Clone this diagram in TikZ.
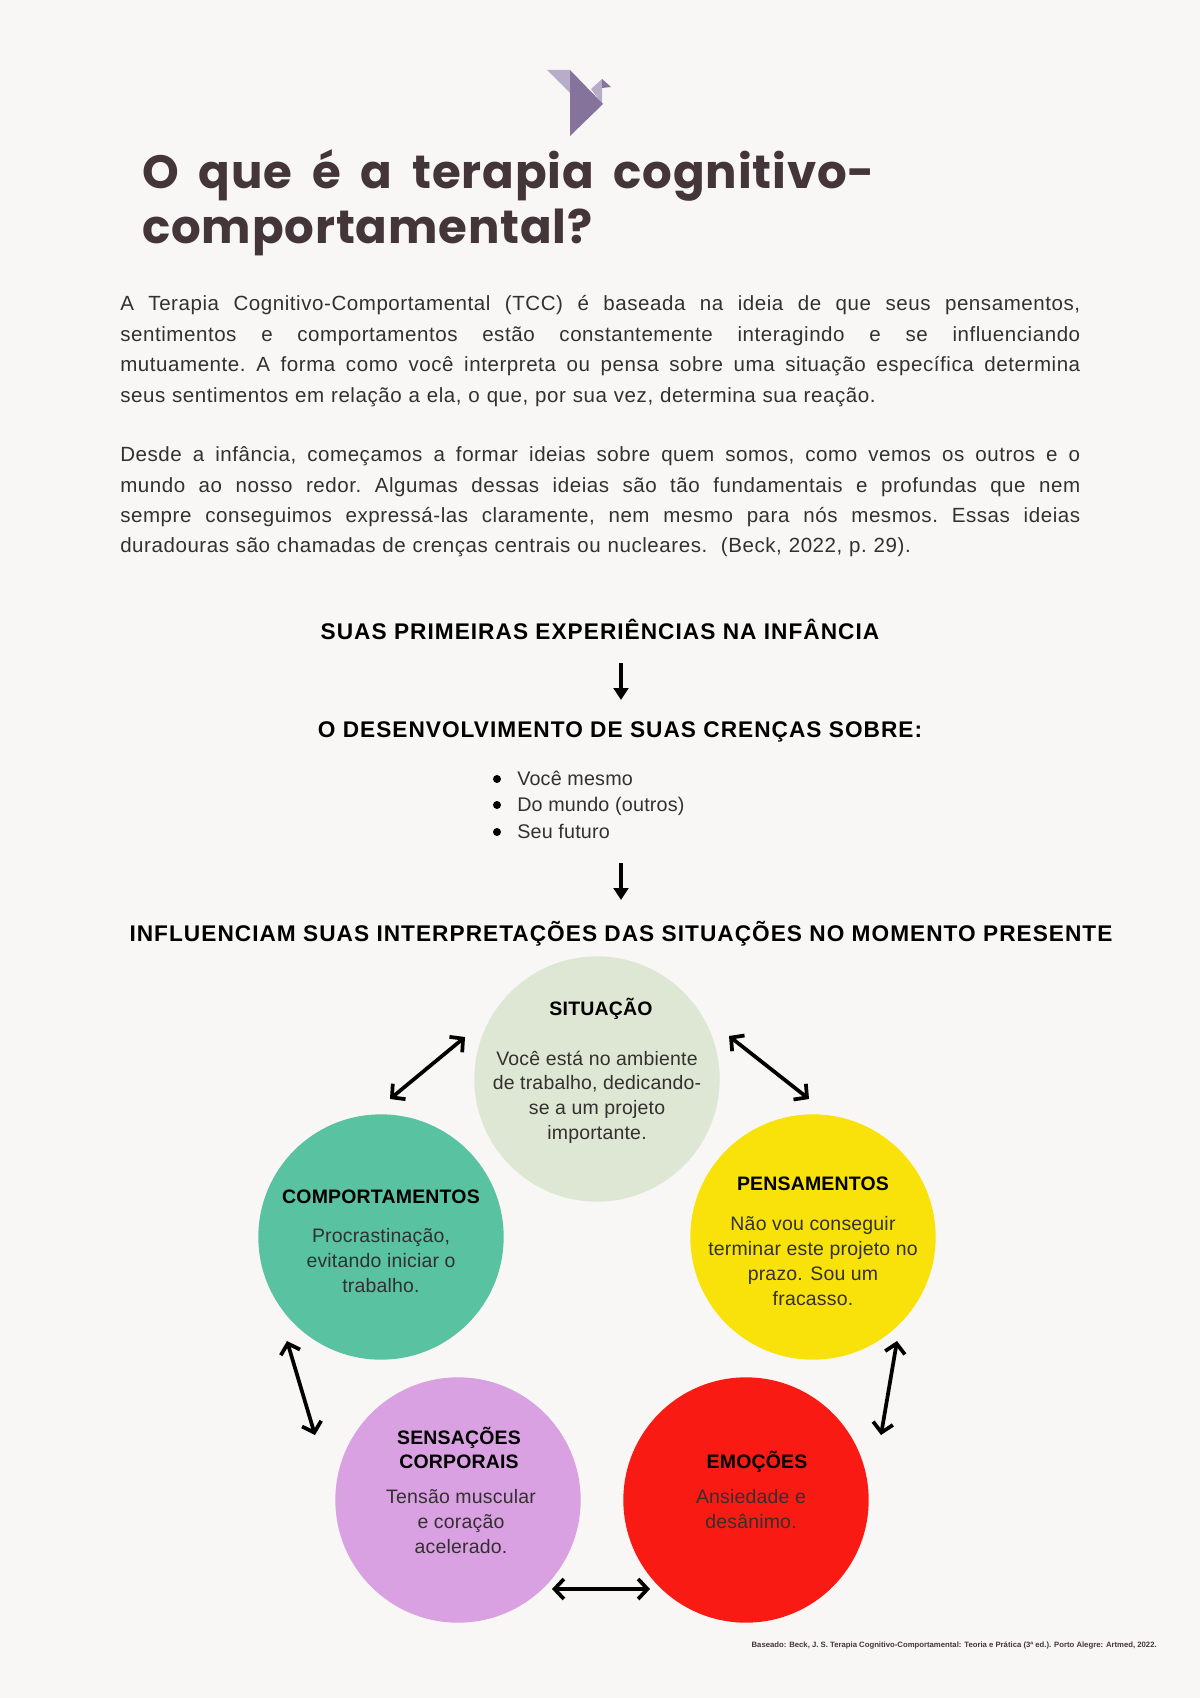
\documentclass[tikz,border=0pt]{standalone}
\usepackage{fontspec}
\setmainfont{Liberation Sans}
\newfontfamily\titlefont{Poppins}[LetterSpace=1.8,WordSpace=1.85]
\newfontfamily\bodyfont{Liberation Sans}[LetterSpace=2.7]
\newfontfamily\headfont{Liberation Sans}[LetterSpace=4.5]
\newfontfamily\smallfont{Liberation Sans}[LetterSpace=1.0]
\usetikzlibrary{arrows.meta}
\definecolor{bgc}{HTML}{F8F7F5}
\definecolor{ink}{HTML}{333030}
\definecolor{titlec}{HTML}{433539}
\definecolor{logod}{HTML}{85739B}
\definecolor{logol}{HTML}{B7ADC9}
\definecolor{cgreen}{HTML}{DEE7D3}
\definecolor{cyellow}{HTML}{F9E20A}
\definecolor{cteal}{HTML}{59C2A0}
\definecolor{cpurple}{HTML}{D9A0E2}
\definecolor{cred}{HTML}{FA1A14}
\newcommand{\jl}[1]{\hbox to 720pt{\frenchspacing\spaceskip=0.28em plus 10em minus 0.1em\relax #1}\par}
\tikzset{
  disc/.style={circle,draw=none,minimum size=184pt,inner sep=0pt},
  bodytext/.style={anchor=north west,inner sep=0pt,text width=720pt,font=\bodyfont\frenchspacing\fontsize{15.4}{22.8}\selectfont,text=ink},
  headline/.style={inner sep=0pt,font=\headfont\fontsize{17}{20}\selectfont\bfseries,text=black,anchor=base},
  ctitle/.style={inner sep=0pt,font=\smallfont\fontsize{14.6}{18}\selectfont\bfseries,text=black,anchor=base,align=center},
  cbody/.style={inner sep=0pt,font=\smallfont\fontsize{14.6}{18.6}\selectfont,text=ink,anchor=base,align=center},
  listitem/.style={inner sep=0pt,font=\smallfont\fontsize{14.8}{18}\selectfont,text=ink,anchor=base west},
  bulletdot/.style={circle,fill=black,minimum size=6pt,inner sep=0pt},
  titleline/.style={anchor=base west,inner sep=0pt,text=titlec,font=\titlefont\fontsize{35}{41}\selectfont\bfseries},
  linkarrow/.style={draw=black,line width=2.8pt,{Straight Barb[length=7pt,width=15pt,line width=2.8pt]}-{Straight Barb[length=7pt,width=15pt,line width=2.8pt]}},
  downarrow/.style={draw=black,line width=3.6pt,-{Triangle[length=9pt,width=11pt]}}
}
\begin{document}
\begin{tikzpicture}[x=0.75pt,y=-0.75pt]
\useasboundingbox (0,0) rectangle (1200,1698);
\fill[bgc] (0,0) rectangle (1200,1698);
% logo
\fill[logol] (547,70) -- (570,70) -- (570,93) -- cycle;
\fill[logol] (591,89) -- (602,79) -- (602,104) -- cycle;
\fill[logod] (570,70) -- (603,104) -- (570,136) -- cycle;
\fill[logod] (602,79) -- (611,87) -- (602,88) -- cycle;
% title
\node[titleline] (t1) at (142,188) {O que é a terapia cognitivo-};
\node[titleline] (t2) at (142,243) {comportamental?};
% body
\node[bodytext] (p1) at (120,295.5) {%
\jl{A Terapia Cognitivo-Comportamental (TCC) é baseada na ideia de que seus pensamentos,}
\jl{sentimentos e comportamentos estão constantemente interagindo e se influenciando}
\jl{mutuamente. A forma como você interpreta ou pensa sobre uma situação específica determina}
seus sentimentos em relação a ela, o que, por sua vez, determina sua reação.};
\node[bodytext] (p2) at (120,446.5) {%
\jl{Desde a infância, começamos a formar ideias sobre quem somos, como vemos os outros e o}
\jl{mundo ao nosso redor. Algumas dessas ideias são tão fundamentais e profundas que nem}
\jl{sempre conseguimos expressá-las claramente, nem mesmo para nós mesmos. Essas ideias}
duradouras são chamadas de crenças centrais ou nucleares.\ \ (Beck, 2022, p. 29).};
% headings
\node[headline] (h1) at (600,639) {SUAS PRIMEIRAS EXPERIÊNCIAS NA INFÂNCIA};
\node[headline] (h2) at (620,737) {O DESENVOLVIMENTO DE SUAS CRENÇAS SOBRE:};
\node[headline] (h3) at (621,941) {INFLUENCIAM SUAS INTERPRETAÇÕES DAS SITUAÇÕES NO MOMENTO PRESENTE};
% list
\node[bulletdot] (b1) at (497,779) {};
\node[bulletdot] (b2) at (497,805) {};
\node[bulletdot] (b3) at (497,832) {};
\node[listitem] (l1) at (517,785) {Você mesmo};
\node[listitem] (l2) at (517,811) {Do mundo (outros)};
\node[listitem] (l3) at (517,838) {Seu futuro};
% top arrows
\coordinate (a1s) at (621,663); \coordinate (a1e) at (621,700);
\coordinate (a2s) at (621,863); \coordinate (a2e) at (621,900);
\draw[downarrow] (a1s) -- (a1e);
\draw[downarrow] (a2s) -- (a2e);
% circles
\node[disc,fill=cgreen] (sit) at (597,1079) {};
\node[disc,fill=cyellow] (pen) at (813,1237) {};
\node[disc,fill=cteal] (com) at (381,1237) {};
\node[disc,fill=cpurple] (sen) at (458,1500) {};
\node[disc,fill=cred] (emo) at (746,1500) {};
% circle text
\node[ctitle] (sitt) at (601,1015) {SITUAÇÃO};
\node[cbody,anchor=north] (sitb) at (597,1050.5) {Você está no ambiente\\de trabalho, dedicando-\\se a um projeto\\importante.};
\node[ctitle] (pent) at (813,1190) {PENSAMENTOS};
\node[cbody,anchor=north] (penb) at (813,1216.5) {Não vou conseguir\\terminar este projeto no\\prazo. Sou um\\fracasso.};
\node[ctitle] (comt) at (381,1203) {COMPORTAMENTOS};
\node[cbody,anchor=north] (comb) at (381,1228.5) {Procrastinação,\\evitando iniciar o\\trabalho.};
\node[ctitle] (sent) at (459,1444) {SENSAÇÕES};
\node[ctitle] (sent2) at (459,1468) {CORPORAIS};
\node[cbody,anchor=north] (senb) at (461,1489.5) {Tensão muscular\\e coração\\acelerado.};
\node[ctitle] (emot) at (757,1468) {EMOÇÕES};
\node[cbody,anchor=north] (emob) at (751,1489.5) {Ansiedade e\\desânimo.};
% link arrows
\coordinate (l1s) at (390,1099); \coordinate (l1e) at (465,1037);
\coordinate (l2s) at (729,1036); \coordinate (l2e) at (809,1099);
\coordinate (l3s) at (897,1341); \coordinate (l3e) at (881,1435);
\coordinate (l4s) at (287,1341); \coordinate (l4e) at (315,1435);
\coordinate (l5s) at (552,1589); \coordinate (l5e) at (650,1589);
\draw[linkarrow] (l1s) -- (l1e);
\draw[linkarrow] (l2s) -- (l2e);
\draw[linkarrow] (l3s) -- (l3e);
\draw[linkarrow] (l4s) -- (l4e);
\draw[linkarrow] (l5s) -- (l5e);
% footer
\node[anchor=base east,inner sep=0pt,text=titlec,font=\fontsize{5.8}{8}\selectfont\bfseries] (foot) at (1157,1647) {Baseado: Beck, J. S. Terapia Cognitivo-Comportamental: Teoria e Prática (3ª ed.). Porto Alegre: Artmed, 2022.};
\end{tikzpicture}
\end{document}
